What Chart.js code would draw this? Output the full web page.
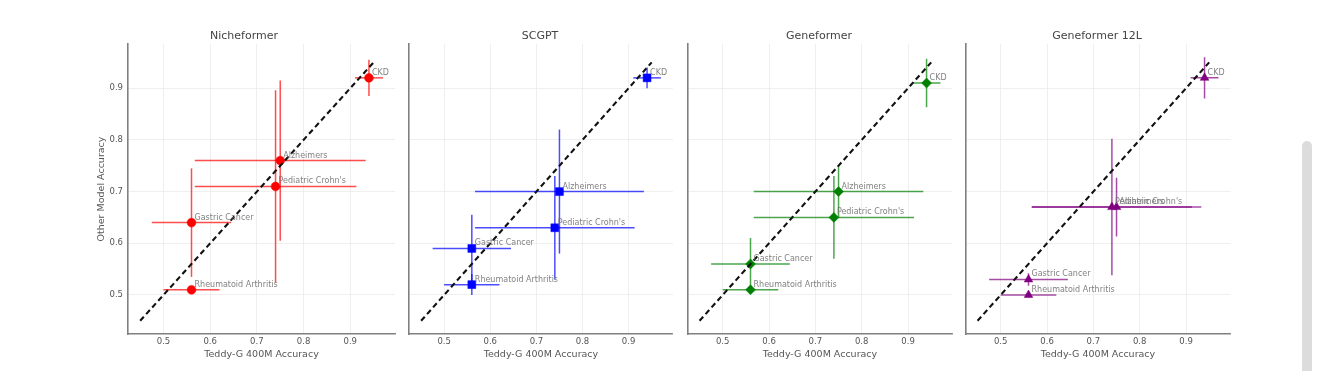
<!DOCTYPE html>
<html>
<head>
<meta charset="utf-8">
<script src="https://cdn.jsdelivr.net/npm/chart.js@4"></script>
<style>
  body { margin: 0; background: #fff; }
  #wrap { position: relative; width: 1320px; height: 371px; overflow: hidden; }
  canvas { position: absolute; top: 0; }
  #scroll { position: absolute; left: 1302px; top: 141px; width: 10px; height: 240px; background: #dcdcdc; border-radius: 5px; }
</style>
</head>
<body>
<div id="wrap">
  <canvas id="c0"></canvas>
  <canvas id="c1"></canvas>
  <canvas id="c2"></canvas>
  <canvas id="c3"></canvas>
  <div id="scroll"></div>
</div>
<script>
// Diseases (same order in every panel)
const diseases = ['Rheumatoid Arthritis', 'Gastric Cancer', "Pediatric Crohn's", 'Alzheimers', 'CKD'];

// Teddy-G 400M accuracy (x) and its error
const teddyAcc = [0.56, 0.56, 0.74, 0.75, 0.94];
const teddyErr = [0.06, 0.085, 0.173, 0.183, 0.03];

// Other models (y) and their errors
const modelNames = ['Nicheformer', 'SCGPT', 'Geneformer', 'Geneformer 12L'];
const nicheAcc = [0.51, 0.64, 0.71, 0.76, 0.92];
const nicheErr = [0.005, 0.105, 0.186, 0.155, 0.035];
const scgptAcc = [0.52, 0.59, 0.63, 0.70, 0.92];
const scgptErr = [0.02, 0.065, 0.10, 0.12, 0.02];
const geneAcc = [0.51, 0.56, 0.65, 0.70, 0.91];
const geneErr = [0.005, 0.05, 0.08, 0.05, 0.047];
const gene12Acc = [0.50, 0.53, 0.67, 0.67, 0.92];
const gene12Err = [0.005, 0.012, 0.132, 0.057, 0.04];

// diagonal y = x
const diagVals = [0.45, 0.95];

// axes
const xTicks = [0.5, 0.6, 0.7, 0.8, 0.9];
const yTicks = [0.5, 0.6, 0.7, 0.8, 0.9];
const xRange = [0.424, 0.996];
const yRange = [0.4245, 0.9855];

const panelY = [nicheAcc, scgptAcc, geneAcc, gene12Acc];
const panelYErr = [nicheErr, scgptErr, geneErr, gene12Err];
const colors = ['255,0,0', '0,0,255', '0,128,0', '128,0,128'];
const markers = ['circle', 'rect', 'rectRot', 'triangle'];
const markerSize = [4.4, 5.6, 5, 5];

// where each plot area starts on the page
const plotLeft = [128, 407, 686, 964];
const plotWidth = 270;

Chart.defaults.font.family = 'DejaVu Sans';
Chart.defaults.color = '#555';

// writes the disease name next to each marker
const labelPlugin = {
  id: 'pointLabels',
  afterDatasetsDraw(chart) {
    const ctx = chart.ctx;
    const xs = chart.scales.x, ys = chart.scales.y;
    const yv = chart.options.plugins.pointLabels.values;
    ctx.save();
    ctx.font = '8px "DejaVu Sans"';
    ctx.fillStyle = 'rgba(115,115,115,0.9)';
    ctx.textBaseline = 'alphabetic';
    diseases.forEach((name, i) => {
      ctx.fillText(name, xs.getPixelForValue(teddyAcc[i]) + 3, ys.getPixelForValue(yv[i]) - 3);
    });
    ctx.restore();
  }
};

function makePanel(p) {
  const first = p == 0;
  const yW = first ? 38 : 4;
  const canvas = document.getElementById('c' + p);
  canvas.style.left = (plotLeft[p] - yW) + 'px';
  canvas.width = yW + plotWidth + 2;
  canvas.height = 371;
  canvas.style.width = canvas.width + 'px';
  canvas.style.height = '371px';

  const col = colors[p];
  const ys = panelY[p];
  const ye = panelYErr[p];
  let datasets = [];

  datasets.push({
    data: teddyAcc.map((x, i) => ({x: x, y: ys[i]})),
    pointStyle: markers[p],
    pointRadius: markerSize[p],
    pointHoverRadius: markerSize[p],
    backgroundColor: 'rgb(' + col + ')',
    borderColor: 'rgb(' + col + ')',
    borderWidth: 0.5,
    order: 1
  });

  datasets.push({
    data: diagVals.map(v => ({x: v, y: v})),
    showLine: true,
    borderColor: '#111',
    borderWidth: 2.1,
    borderDash: [5.5, 3.5],
    pointRadius: 0,
    order: 0
  });

  teddyAcc.forEach((x, i) => {
    // horizontal error
    datasets.push({
      data: [{x: x - teddyErr[i], y: ys[i]}, {x: x + teddyErr[i], y: ys[i]}],
      showLine: true, borderColor: 'rgba(' + col + ',0.7)', borderWidth: 1.5,
      pointRadius: 0, pointHoverRadius: 0, order: 2
    });
    // vertical error
    datasets.push({
      data: [{x: x, y: ys[i] - ye[i]}, {x: x, y: ys[i] + ye[i]}],
      showLine: true, borderColor: 'rgba(' + col + ',0.7)', borderWidth: 1.5,
      pointRadius: 0, pointHoverRadius: 0, order: 2
    });
  });

  return new Chart(canvas, {
    type: 'scatter',
    data: {datasets: datasets},
    options: {
      responsive: false,
      animation: false,
      layout: {padding: {right: 2}},
      plugins: {
        legend: {display: false},
        tooltip: {enabled: false},
        title: {
          display: true,
          text: modelNames[p],
          color: '#444',
          font: {size: 11, weight: 'normal'},
          padding: {top: 30, bottom: 0.8}
        },
        pointLabels: {values: ys}
      },
      scales: {
        x: {
          type: 'linear',
          min: xRange[0], max: xRange[1],
          afterBuildTicks: s => { s.ticks = xTicks.map(v => ({value: v})); },
          afterFit: s => { s.height = 37; },
          ticks: {font: {size: 8.5}, color: '#555', padding: 3, maxRotation: 0, callback: v => String(v)},
          grid: {color: '#ebebeb', lineWidth: 0.8, drawTicks: false},
          border: {display: true, color: '#808080', width: 1.6},
          title: {display: true, text: 'Teddy-G 400M Accuracy', color: '#555', font: {size: 9.5}, padding: {top: 0, bottom: 11}}
        },
        y: {
          type: 'linear',
          min: yRange[0], max: yRange[1],
          afterBuildTicks: s => { s.ticks = yTicks.map(v => ({value: v})); },
          afterFit: s => { s.width = yW; },
          ticks: {display: first, font: {size: 8.5}, color: '#555', padding: 5, callback: v => String(v)},
          grid: {color: '#ebebeb', lineWidth: 0.8, drawTicks: false},
          border: {display: true, color: '#808080', width: 1.6},
          title: {display: first, text: 'Other Model Accuracy', color: '#555', font: {size: 9.5}, padding: {top: 6, bottom: 0}}
        }
      }
    },
    plugins: [labelPlugin]
  });
}

for (let p = 0; p < 4; p++) makePanel(p);
</script>
</body>
</html>
